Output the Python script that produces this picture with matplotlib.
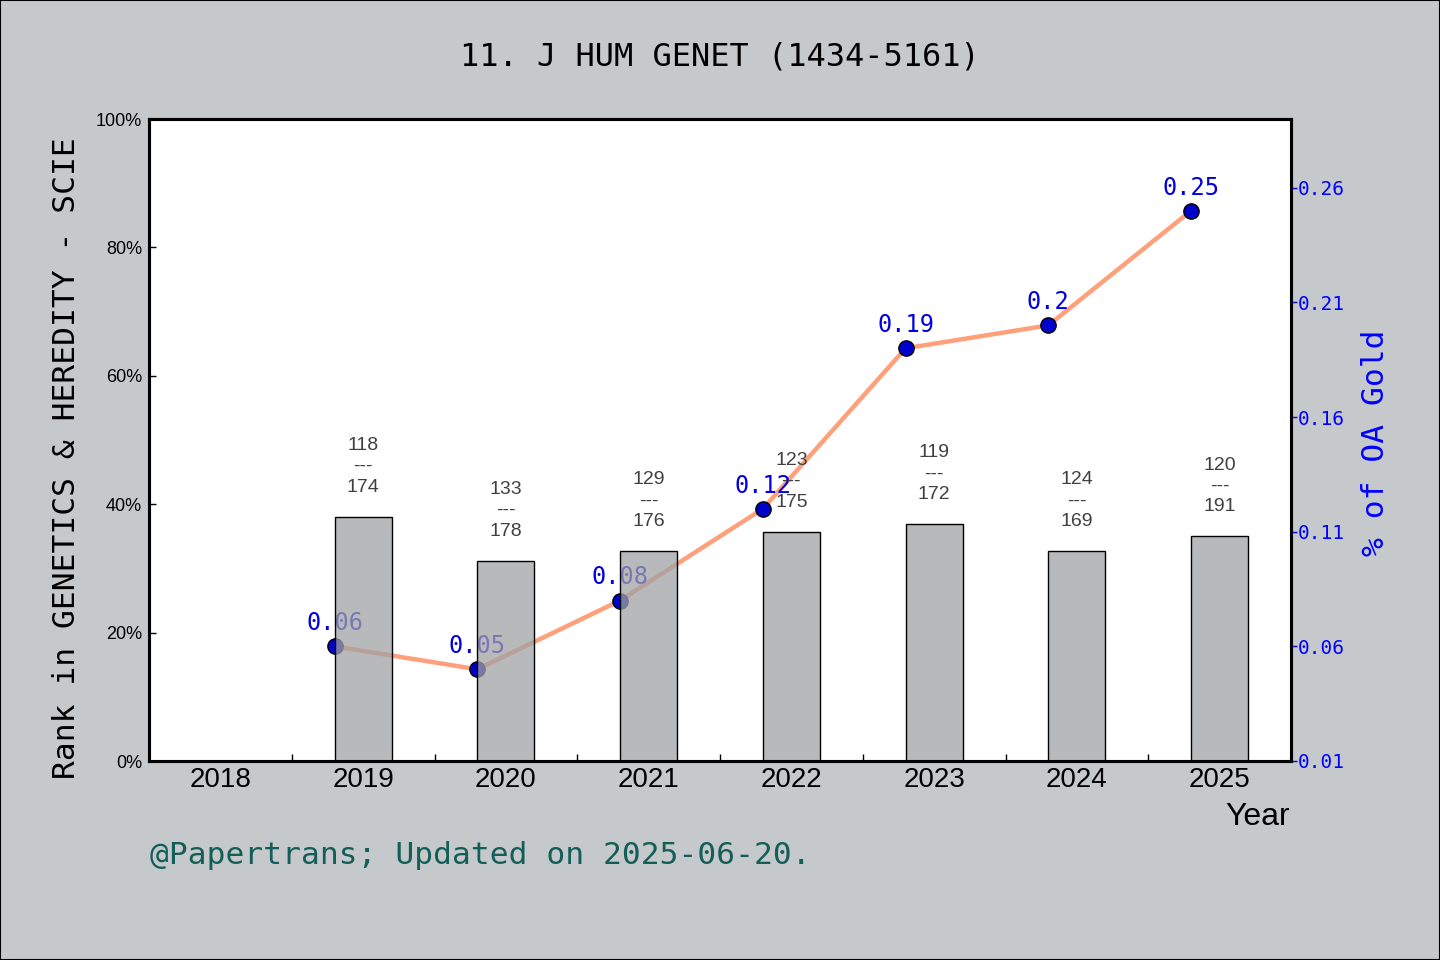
import numpy as np
import matplotlib
matplotlib.use("Agg")
import matplotlib.pyplot as plt
from matplotlib.patches import Rectangle

plt.rcParams['font.family'] = ['Liberation Sans', 'DejaVu Sans']

# data
years = ['2018', '2019', '2020', '2021', '2022', '2023', '2024', '2025']
bar_years = ['2019', '2020', '2021', '2022', '2023', '2024', '2025']
bar_pct = [38.0, 31.2, 32.7, 35.7, 36.9, 32.7, 35.0]
ranks = [118, 133, 129, 123, 119, 124, 120]
totals = [174, 178, 176, 175, 172, 169, 191]
oa_gold = [0.06, 0.05, 0.08, 0.12, 0.19, 0.2, 0.25]
oa_ticks = [0.01, 0.06, 0.11, 0.16, 0.21, 0.26]

mono = 'DejaVu Sans Mono'
bg = '#C6C9CC'
bar_w = 0.4

fig = plt.figure(figsize=(14.4, 9.6), dpi=100, facecolor=bg)
ax = fig.add_axes([149/1440, 1-761/960, 1142/1440, 642/960])
ax2 = ax.twinx()
# bars above the line, like the original
ax.set_zorder(ax2.get_zorder() + 1)
ax.patch.set_visible(False)
ax2.patch.set_visible(True)
ax2.patch.set_facecolor('white')

xpos = {y: i for i, y in enumerate(years)}
bx = np.array([xpos[y] for y in bar_years])
lx = bx - bar_w / 2   # line points sit on the bars' left edges

# line on right axis
ax2.plot(lx, oa_gold, color='#FFA07A', lw=3.2, marker='o', markersize=11,
         markerfacecolor='#0000CD', markeredgecolor='black', markeredgewidth=1,
         zorder=3)
for x, v in zip(lx, oa_gold):
    ax2.annotate(f"{v:g}", (x, v), xytext=(0, 8), textcoords='offset points',
                 ha='center', va='bottom', color='#0000E0', fontsize=17,
                 family=mono, zorder=4)
ax2.set_ylim(0.01, 0.29)
ax2.set_yticks(oa_ticks)
ax2.set_yticklabels([f"{t:.2f}" for t in oa_ticks], family=mono)
ax2.tick_params(axis='y', colors='blue', labelsize=14, direction='out',
                length=4, width=1, pad=1)

# bars on left axis
ax.bar(bx, bar_pct, width=bar_w, facecolor=(0.63, 0.635, 0.647, 0.75),
       edgecolor='black', linewidth=1, zorder=2)
for x, h, r, t in zip(bx, bar_pct, ranks, totals):
    ax.annotate(f"{r}\n---\n{t}", (x, h), xytext=(0, 15), textcoords='offset points',
                ha='center', va='bottom', color='#404040', fontsize=14,
                linespacing=1.3, zorder=5)

ax.set_xlim(-0.5, 7.5)
ax.set_ylim(0, 100)
ax.set_yticks(np.arange(0, 101, 20))
ax.set_yticklabels([f"{v}%" for v in range(0, 101, 20)])
ax.tick_params(axis='y', labelsize=13, direction='in', length=5, width=1, pad=5)
ax.set_xticks(range(len(years)))
ax.set_xticklabels(years)
ax.set_xticks(np.arange(0.5, 7, 1), minor=True)
ax.tick_params(axis='x', which='major', length=0, labelsize=20, pad=4)
ax.tick_params(axis='x', which='minor', direction='in', length=5, width=1)

for a in (ax, ax2):
    for s in a.spines.values():
        s.set_linewidth(2.2)
        s.set_color('black')

fig.text(0.5, 1-57/960, "11. J HUM GENET (1434-5161)", ha='center', va='center',
         fontsize=23, family=mono)
fig.text(67/1440, 1-458/960, "Rank in GENETICS & HEREDITY - SCIE", rotation=90,
         ha='center', va='center', fontsize=22.5, family=mono)
fig.text(1375/1440, 1-443/960, "% of OA Gold", rotation=90, ha='center', va='center',
         fontsize=22.5, family=mono, color='blue')
fig.text(1290/1440, 1-817/960, "Year", ha='right', va='center', fontsize=23)
fig.text(150/1440, 1-855/960, "@Papertrans; Updated on 2025-06-20.", ha='left',
         va='center', fontsize=22.5, family=mono, color='#145E58')

fig.patches.append(Rectangle((0, 0), 1, 1, transform=fig.transFigure, fill=False,
                             edgecolor='black', linewidth=1.5))

fig.savefig("out.png", dpi=100, facecolor=bg)
